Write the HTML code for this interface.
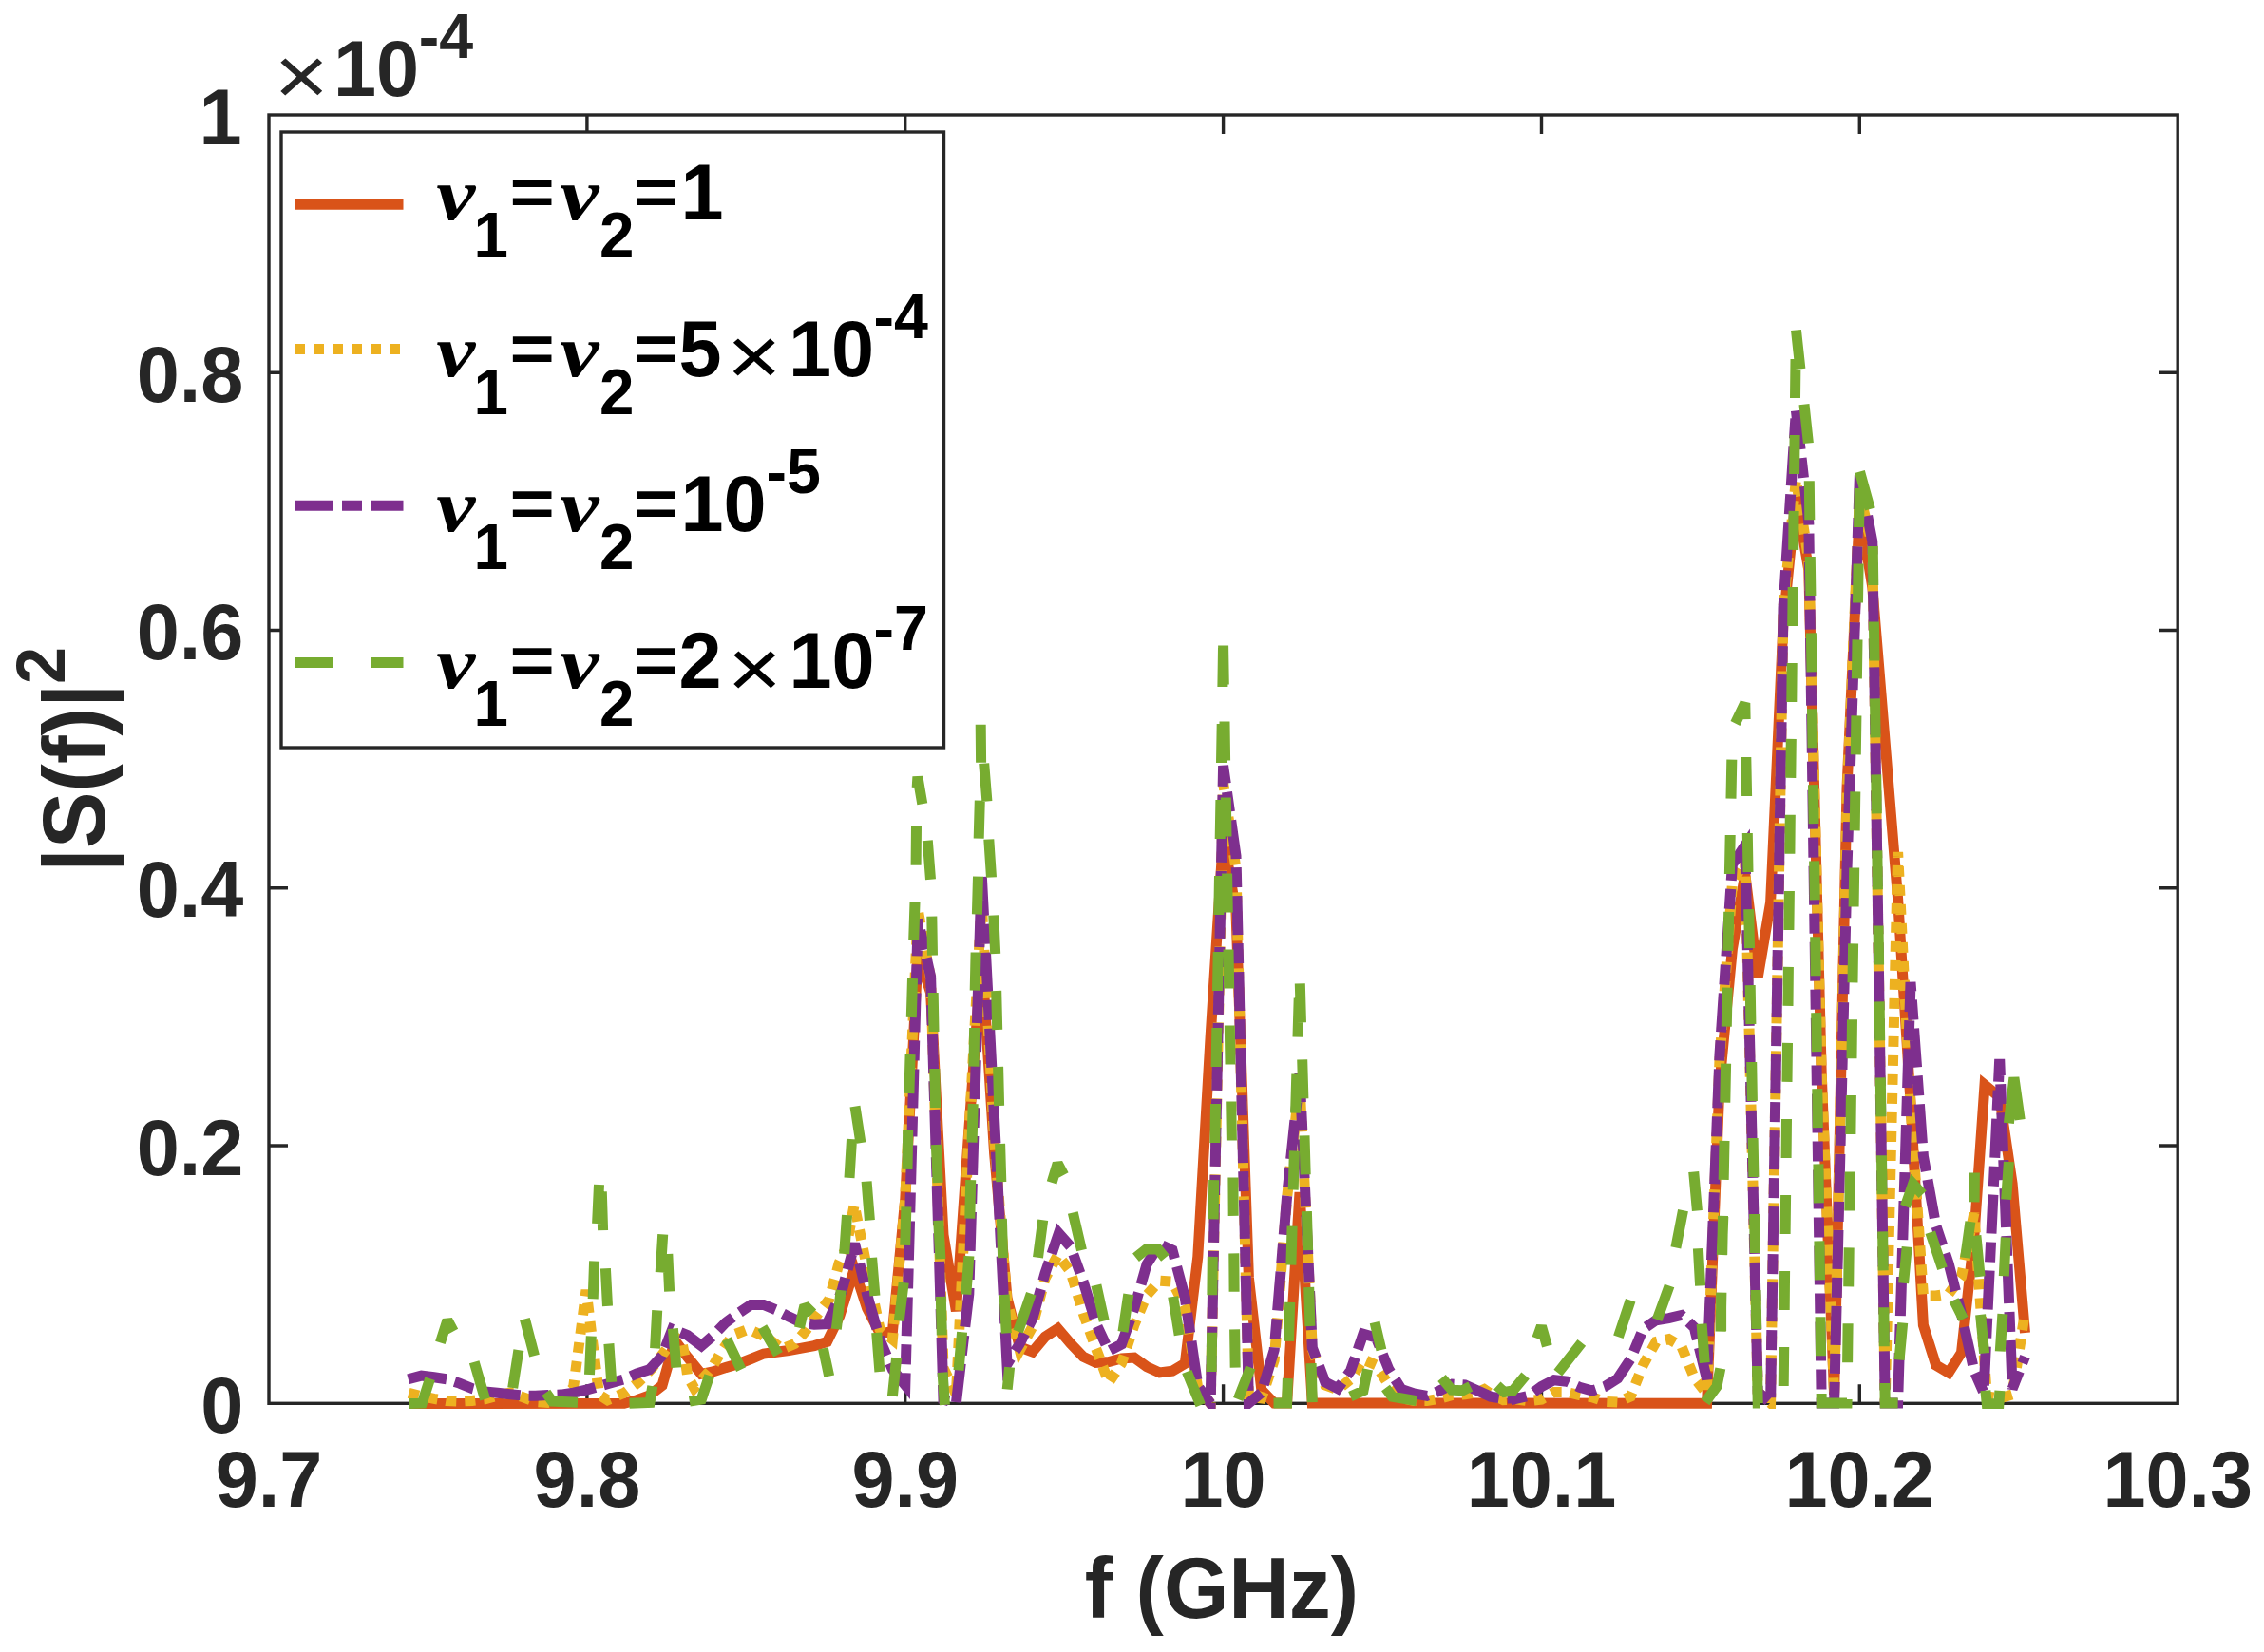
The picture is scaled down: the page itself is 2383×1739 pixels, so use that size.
<!DOCTYPE html>
<html><head><meta charset="utf-8"><title>Spectrum plot</title>
<style>
html,body{margin:0;padding:0;background:#fff;}
body{width:2383px;height:1739px;overflow:hidden;}
svg{display:block;}
.t{font-family:"Liberation Sans",Arial,sans-serif;font-weight:bold;fill:#262626;}
.l{font-family:"Liberation Sans",Arial,sans-serif;font-weight:bold;fill:#000;}
.x{font-family:"Liberation Sans",Arial,sans-serif;font-weight:normal;}
.nu{font-family:"Liberation Serif","DejaVu Serif",serif;font-weight:bold;font-style:italic;fill:#000;}
</style></head><body>
<svg width="2383" height="1739" viewBox="0 0 2383 1739">
<rect x="0" y="0" width="2383" height="1739" fill="#fff"/>

<g stroke="#262626" stroke-width="3.4" fill="none" stroke-linecap="square">
<rect x="283.0" y="121.0" width="2009.1999999999998" height="1356.3"/>
<path d="M617.9 1477.3 v-20 M617.9 121.0 v20" stroke-linecap="butt"/>
<path d="M952.7 1477.3 v-20 M952.7 121.0 v20" stroke-linecap="butt"/>
<path d="M1287.6 1477.3 v-20 M1287.6 121.0 v20" stroke-linecap="butt"/>
<path d="M1622.5 1477.3 v-20 M1622.5 121.0 v20" stroke-linecap="butt"/>
<path d="M1957.3 1477.3 v-20 M1957.3 121.0 v20" stroke-linecap="butt"/>
<path d="M283.0 1206.0 h20 M2292.2 1206.0 h-20" stroke-linecap="butt"/>
<path d="M283.0 934.8 h20 M2292.2 934.8 h-20" stroke-linecap="butt"/>
<path d="M283.0 663.5 h20 M2292.2 663.5 h-20" stroke-linecap="butt"/>
<path d="M283.0 392.3 h20 M2292.2 392.3 h-20" stroke-linecap="butt"/>
</g>
<defs><clipPath id="cp"><rect x="275.0" y="113.0" width="2025.1999999999998" height="1370.0"/></clipPath></defs><g clip-path="url(#cp)">
<polyline points="430.2,1477.5 657.0,1477.2 670.3,1473.7 683.6,1468.8 697.0,1458.4 710.4,1411.1 723.7,1428.5 738.1,1446.3 750.4,1444.0 763.7,1439.6 777.0,1435.7 790.4,1430.5 803.8,1425.0 817.1,1423.2 830.4,1421.5 843.7,1419.1 857.1,1416.6 870.5,1412.4 883.8,1385.3 899.2,1336.0 912.6,1377.0 926.0,1403.0 939.4,1402.0 952.8,1262.0 966.2,1003.0 979.6,1045.0 993.0,1300.0 1006.4,1380.0 1019.8,1190.0 1033.2,1005.0 1046.6,1214.0 1060.0,1366.0 1073.4,1418.0 1086.8,1423.0 1100.0,1407.2 1113.4,1398.4 1126.9,1414.2 1140.2,1428.2 1153.6,1434.4 1167.1,1433.5 1180.4,1430.0 1193.8,1429.1 1207.1,1438.8 1220.6,1444.9 1234.0,1443.2 1247.3,1435.3 1260.8,1322.9 1274.2,1090.0 1287.6,880.0 1301.0,960.0 1314.4,1345.0 1327.8,1463.0 1341.2,1477.0 1354.6,1477.0 1368.0,1255.0 1381.3,1477.0 1796.6,1477.3 1810.0,1140.0 1823.4,999.0 1836.8,920.0 1850.2,1029.0 1863.6,950.0 1877.0,655.0 1890.4,522.0 1903.8,600.0 1917.2,1130.0 1930.6,1468.0 1944.0,830.0 1957.4,535.0 1970.8,618.0 1984.2,782.0 1997.6,946.0 2011.0,1160.0 2024.4,1395.0 2037.7,1437.0 2051.1,1445.0 2064.5,1424.0 2077.9,1301.0 2089.0,1142.0 2104.7,1155.0 2118.1,1246.0 2131.5,1403.0" fill="none" stroke="#D95319" stroke-width="11" stroke-linejoin="miter" stroke-miterlimit="4"/>
<polyline points="430.2,1466.3 443.5,1469.7 456.9,1472.4 470.2,1474.6 483.6,1475.1 496.9,1474.4 510.3,1472.9 523.6,1469.3 536.9,1465.9 550.2,1470.7 563.6,1475.6 576.9,1476.5 590.3,1474.6 603.6,1460.5 617.0,1358.0 630.5,1468.0 639.5,1473.7 657.6,1466.0 672.2,1454.9 686.8,1439.6 699.4,1422.9 710.5,1407.6 717.5,1411.1 720.9,1428.5 723.7,1448.6 730.7,1461.2 748.8,1441.0 757.8,1425.0 771.1,1405.5 787.8,1399.2 806.6,1407.6 823.3,1420.1 836.5,1414.5 848.3,1400.6 860.8,1383.2 872.7,1367.9 878.2,1347.7 883.1,1329.6 890.8,1312.9 899.2,1268.0 912.6,1335.0 926.0,1399.0 939.4,1410.0 952.8,1262.0 966.2,958.0 979.6,1030.0 993.0,1440.0 1006.4,1468.0 1019.8,1195.0 1033.2,950.0 1046.6,1200.0 1060.0,1370.0 1073.3,1421.2 1086.7,1396.6 1100.0,1345.7 1113.4,1321.1 1126.9,1338.7 1140.2,1382.6 1153.6,1419.5 1167.1,1455.4 1180.4,1435.3 1193.8,1394.9 1207.1,1363.3 1220.6,1348.3 1234.0,1349.2 1247.3,1375.6 1260.8,1461.6 1274.2,1477.4 1287.6,824.0 1301.0,915.0 1314.4,1470.0 1327.8,1472.0 1341.2,1432.0 1354.6,1261.0 1368.0,1140.0 1381.3,1420.0 1394.8,1458.0 1408.1,1462.8 1421.6,1451.9 1434.9,1431.0 1448.3,1436.8 1461.7,1458.0 1475.1,1471.6 1488.5,1474.6 1501.9,1474.6 1515.2,1472.3 1528.7,1468.5 1542.0,1467.8 1555.5,1465.5 1562.2,1462.5 1568.8,1467.0 1582.3,1473.8 1595.6,1473.1 1595.7,1473.1 1609.1,1474.6 1622.5,1473.1 1635.8,1465.5 1649.2,1465.5 1662.6,1468.5 1676.0,1470.8 1689.4,1475.4 1702.7,1476.1 1716.2,1470.1 1729.5,1436.8 1743.0,1412.5 1756.5,1409.5 1769.8,1417.1 1783.3,1450.4 1796.6,1467.0 1810.0,1115.0 1823.4,930.0 1836.8,905.0 1850.2,1465.0 1863.6,1477.0 1877.0,640.0 1890.4,505.0 1903.8,590.0 1917.2,1130.0 1930.6,1468.0 1944.0,840.0 1957.4,520.0 1970.8,575.0 1984.2,1477.0 1997.6,897.0 2011.0,1165.0 2024.4,1364.0 2037.7,1364.0 2051.1,1362.0 2064.5,1344.0 2077.9,1277.0 2091.3,1470.0 2104.7,1472.0 2118.1,1468.0 2130.6,1387.0" fill="none" stroke="#EDB120" stroke-width="11" stroke-linejoin="miter" stroke-miterlimit="4" stroke-dasharray="11 9"/>
<polyline points="429.7,1451.8 443.5,1448.1 456.9,1449.8 470.2,1451.8 483.6,1456.1 496.9,1461.5 510.3,1464.9 523.6,1466.3 536.9,1467.8 550.2,1469.1 563.6,1469.3 576.9,1468.5 590.3,1468.1 603.6,1466.1 617.0,1463.2 636.0,1457.7 656.2,1452.1 670.3,1445.9 683.6,1441.7 697.0,1427.1 707.7,1399.2 723.7,1405.5 738.3,1416.6 750.4,1406.2 763.7,1392.3 777.0,1382.5 790.4,1373.5 803.8,1373.5 817.1,1379.0 830.4,1386.0 843.7,1392.3 857.1,1394.3 870.5,1393.6 885.8,1359.8 899.6,1309.0 912.6,1362.6 926.0,1409.8 939.4,1441.6 952.8,1458.0 966.2,968.0 979.6,1028.0 993.0,1473.0 1006.4,1477.0 1019.8,1362.0 1033.2,920.0 1046.6,1178.0 1060.0,1436.0 1073.4,1414.3 1086.8,1388.0 1100.0,1340.4 1114.4,1298.3 1126.9,1312.4 1140.2,1349.2 1153.6,1393.1 1167.1,1422.1 1180.4,1415.1 1193.8,1377.3 1207.1,1330.8 1220.6,1309.7 1234.0,1315.9 1247.3,1365.9 1260.8,1459.0 1274.2,1477.4 1287.6,806.0 1301.0,901.0 1314.4,1477.0 1327.8,1466.0 1341.2,1421.0 1354.6,1259.7 1368.0,1130.0 1381.3,1418.6 1394.8,1454.9 1408.1,1461.7 1421.6,1442.8 1434.9,1404.2 1448.3,1408.0 1461.7,1441.3 1475.1,1462.5 1488.5,1467.0 1501.9,1469.3 1515.2,1464.0 1528.7,1457.2 1542.0,1458.0 1555.5,1464.0 1568.8,1470.1 1582.3,1472.3 1595.6,1471.6 1595.7,1472.3 1609.1,1469.3 1622.5,1459.5 1635.8,1452.7 1649.2,1454.2 1662.6,1460.2 1676.0,1464.0 1689.4,1459.5 1702.7,1451.1 1716.2,1430.7 1729.5,1398.9 1743.0,1389.8 1756.5,1387.6 1769.8,1384.5 1783.3,1397.4 1796.6,1451.9 1810.0,1110.0 1823.4,910.0 1836.8,890.0 1850.2,1465.0 1863.6,1477.0 1877.0,640.0 1890.4,432.0 1903.8,550.0 1917.2,1477.0 1930.6,1477.0 1944.0,915.0 1957.4,500.0 1970.8,570.0 1984.2,1477.0 1997.6,1477.0 2011.0,1034.0 2024.4,1217.0 2037.7,1290.0 2051.1,1330.0 2064.5,1383.0 2077.9,1443.0 2088.0,1466.0 2104.7,1115.0 2118.1,1462.0 2131.5,1428.0" fill="none" stroke="#7E2F8E" stroke-width="11" stroke-linejoin="miter" stroke-miterlimit="4" stroke-dasharray="41 9 21 9"/>
<path d="M430.2 1477.5 L444.3 1477.2 L452.6 1451.3 M463.4 1413.4 L471.0 1389.6 L477.3 1401.4 M499.2 1433.8 L510.6 1472.9 M539.7 1461.0 L545.9 1421.1 M552.4 1388.3 L562.5 1427.2 M574.7 1465.9 L581.3 1475.1 L608.0 1476.2 M620.5 1447.0 L622.3 1406.4 M624.2 1367.2 L625.6 1327.5 M628.6 1287.9 L630.5 1247.1 M633.3 1254.3 L634.6 1295.2 M637.4 1335.2 L639.5 1374.9 M640.9 1414.5 L643.7 1454.9 M662.5 1477.2 L684.0 1476.5 L686.8 1459.1 M689.6 1419.4 L691.7 1379.4 M695.2 1339.4 L697.7 1299.4 M702.8 1319.9 L704.6 1359.5 M708.4 1398.5 L711.9 1439.6 M725.8 1475.1 L738.3 1473.0 L746.7 1447.9 M764.8 1409.7 L780.1 1441.7 M802.4 1397.1 L819.1 1425.7 M841.4 1397.8 L846.9 1374.2 L855.3 1382.5 M866.4 1419.4 L872.7 1448.6 M880.3 1399.2 L885.2 1358.1 M888.7 1319.9 L891.5 1279.2 M894.0 1239.8 L896.5 1199.2 M900.0 1164.7 L905.9 1203.1 M956.9 1151.0 L958.1 1110.0 M959.3 1071.0 L960.5 1030.0 M982.2 1045.0 L983.0 1086.0 M983.8 1125.0 L984.6 1166.0 M1023.1 1202.7 L1024.2 1162.0 M1025.0 1122.7 L1025.6 1082.0 M1026.2 1042.7 L1027.1 1002.5 M1048.7 1043.0 L1049.7 1084.0 M1050.6 1123.0 L1051.6 1164.0 M912.1 1243.6 L915.4 1284.5 M917.6 1323.9 L920.9 1364.0 M922.7 1402.9 L925.9 1444.0 M939.4 1469.7 L943.6 1429.4 M946.3 1390.4 L951.2 1350.2 M952.7 1310.8 L953.9 1270.3 M955.0 1230.9 L955.7 1190.0 M985.3 1204.9 L987.2 1245.0 M987.7 1284.8 L989.9 1325.3 M990.3 1364.8 L991.3 1405.3 M992.1 1444.7 L994.4 1478.8 M1009.0 1442.5 L1012.6 1402.2 M1016.8 1362.6 L1019.9 1322.2 M1020.8 1282.6 L1021.7 1242.1 M1052.6 1204.0 L1053.8 1244.1 M1054.4 1283.0 L1055.6 1324.1 M1057.1 1362.9 L1059.3 1403.4 M1062.6 1439.2 L1060.2 1462.5 M1071.6 1401.6 L1085.3 1361.7 M961.7 989.8 L963.0 949.8 M964.1 910.7 L964.5 869.5 M965.2 829.2 L965.9 817.7 L970.8 846.3 M976.3 884.8 L979.5 925.8 M980.8 964.7 L981.5 1005.7 M1028.4 962.5 L1029.5 922.6 M1030.2 882.6 L1031.3 842.6 M1032.6 802.7 L1032.2 762.7 M1035.7 803.6 L1038.9 843.5 M1040.8 883.5 L1043.5 923.5 M1045.8 963.4 L1047.7 1003.9 M1092.5 1323.8 L1097.7 1284.3 M1107.1 1244.8 L1113.2 1224.6 L1119.7 1236.9 M1129.3 1276.4 L1138.5 1315.9 M1153.9 1352.7 L1162.2 1390.5 M1182.0 1401.9 L1187.8 1362.4 M1195.5 1323.8 L1206.6 1315.0 L1218.9 1315.0 L1226.4 1324.3 M1234.7 1365.0 L1241.2 1405.4 M1249.3 1444.0 L1263.7 1479.1 M1275.1 1444.0 L1275.6 1402.8 M1275.9 1363.3 L1276.3 1322.9 M1277.2 1283.4 L1277.7 1242.1 M1297.9 1239.5 L1298.2 1279.9 M1298.8 1319.4 L1299.1 1359.8 M1299.6 1399.3 L1300.2 1439.6 M1303.2 1473.0 L1316.3 1439.6 M1278.8 1203.0 L1279.5 1162.0 M1280.1 1123.0 L1280.8 1082.0 M1281.5 1043.0 L1282.2 1002.0 M1282.8 963.0 L1283.5 922.0 M1284.2 883.0 L1284.9 842.0 M1285.5 803.0 L1286.2 762.0 M1286.9 723.0 L1287.5 682.0 M1287.6 679.5 L1288.3 720.5 M1289.0 759.5 L1289.6 800.5 M1290.3 839.5 L1291.0 880.5 M1291.6 919.5 L1292.3 960.5 M1293.0 999.5 L1293.7 1040.5 M1294.3 1079.5 L1295.0 1120.5 M1295.7 1159.5 L1296.4 1200.5 M1356.5 1411.8 L1357.7 1370.8 M1358.9 1331.6 L1360.1 1290.6 M1361.2 1252.5 L1362.4 1211.5 M1363.6 1171.7 L1364.8 1130.7 M1366.0 1091.7 L1367.2 1050.7 M1340.5 1477.0 L1354.6 1477.0 L1355.4 1451.0 M1368.3 1035.4 L1369.5 1076.4 M1370.7 1115.4 L1371.9 1156.4 M1373.0 1195.3 L1374.2 1236.3 M1375.4 1275.2 L1376.6 1316.2 M1377.7 1355.0 L1378.9 1396.0 M1380.1 1435.2 L1381.3 1476.2 M1421.4 1470.1 L1435.0 1464.0 L1439.6 1441.3 M1447.1 1392.1 L1453.9 1420.9 M1458.5 1461.0 L1465.3 1470.1 L1491.0 1474.6 M1517.5 1450.4 L1528.1 1463.2 L1539.5 1463.7 L1547.8 1459.5 M1575.8 1458.7 L1583.4 1465.5 L1592.4 1464.0 L1605.6 1448.0 M1617.8 1408.8 L1622.4 1395.9 L1628.4 1417.1 M1639.8 1445.1 L1664.8 1413.3 M1703.4 1407.2 L1716.2 1368.7 M1744.2 1389.1 L1757.1 1353.5 M1763.9 1313.4 L1771.5 1274.1 M1787.4 1314.2 L1789.6 1353.5 M1791.1 1393.6 L1794.2 1434.5 M1794.9 1476.1 L1807.0 1459.5 L1810.8 1440.5 M1811.6 1401.2 L1811.6 1361.1 M1812.3 1321.0 L1813.8 1280.9 M1794.9 1476.1 L1807.0 1459.5 L1810.8 1440.5 M1782.7 1233.6 L1786.4 1274.5 M1811.1 1401.6 L1811.9 1360.6 M1812.7 1320.8 L1813.5 1279.8 M1814.2 1241.8 L1815.0 1200.8 M1815.8 1160.7 L1816.6 1119.7 M1817.3 1080.7 L1818.1 1039.7 M1818.9 1000.8 L1819.7 959.8 M1820.4 920.0 L1821.2 879.0 M1822.0 840.7 L1822.8 799.7 M1826.5 761.5 L1836.8 740.0 L1837.1 757.1 M1837.8 797.0 L1838.6 838.0 M1839.3 877.0 L1840.0 918.0 M1840.7 957.2 L1841.5 998.2 M1842.2 1037.1 L1842.9 1078.1 M1843.7 1118.0 L1844.4 1159.0 M1845.1 1198.0 L1845.9 1239.0 M1846.6 1278.0 L1847.3 1319.0 M1848.0 1358.0 L1848.8 1399.0 M1849.5 1438.0 L1850.2 1477.0 L1852.2 1477.0 M1877.2 1459.0 L1877.7 1418.0 M1878.2 1379.0 L1878.6 1338.0 M1879.1 1299.0 L1879.6 1258.0 M1880.1 1219.0 L1880.5 1178.0 M1881.0 1138.9 L1881.5 1097.9 M1882.0 1058.9 L1882.4 1017.9 M1882.9 979.0 L1883.4 938.0 M1883.9 898.8 L1884.3 857.8 M1884.8 818.9 L1885.3 777.9 M1885.8 739.0 L1886.2 698.0 M1886.7 659.0 L1887.2 618.0 M1887.7 578.9 L1888.1 537.9 M1888.6 499.0 L1889.1 458.0 M1889.5 419.0 L1890.0 378.0 M1890.5 347.5 L1894.9 388.3 M1899.0 425.7 L1903.4 466.5 M1904.3 506.2 L1904.8 547.2 M1905.3 586.0 L1905.9 627.0 M1906.4 666.3 L1907.0 707.3 M1907.5 746.2 L1908.0 787.2 M1908.5 826.2 L1909.1 867.2 M1909.6 906.3 L1910.2 947.3 M1910.7 986.3 L1911.2 1027.3 M1911.7 1066.2 L1912.3 1107.2 M1912.8 1146.1 L1913.3 1187.1 M1913.9 1225.4 L1914.4 1266.4 M1914.9 1306.3 L1915.5 1347.3 M1916.0 1386.2 L1916.5 1427.2 M1917.1 1467.0 L1917.2 1477.0 L1930.6 1477.0 L1944.0 1477.0 L1944.1 1472.8 M1944.6 1434.3 L1945.1 1393.3 M1945.7 1354.4 L1946.2 1313.4 M1946.8 1274.5 L1947.3 1233.5 M1947.9 1194.0 L1948.4 1153.0 M1949.0 1114.3 L1949.5 1073.3 M1950.0 1034.4 L1950.6 993.4 M1951.1 954.5 L1951.7 913.5 M1952.2 874.3 L1952.8 833.3 M1953.3 794.4 L1953.9 753.4 M1954.4 714.4 L1955.0 673.4 M1955.5 634.5 L1956.1 593.5 M1956.6 555.0 L1957.2 514.0 M1957.5 496.5 L1968.4 536.0 M1971.2 575.0 L1971.8 616.0 M1972.4 654.5 L1973.0 695.5 M1973.5 735.3 L1974.1 776.3 M1974.7 815.3 L1975.3 856.3 M1975.8 895.4 L1976.4 936.4 M1977.0 974.5 L1977.6 1015.5 M1978.1 1054.4 L1978.7 1095.4 M1979.3 1134.3 L1979.9 1175.3 M1980.5 1216.3 L1981.0 1257.3 M1981.6 1296.3 L1982.2 1337.3 M1982.8 1376.2 L1983.3 1417.2 M1983.9 1456.0 L1984.2 1477.0 L1997.6 1477.0 M1999.1 1431.6 L2002.7 1392.5 M2003.6 1350.8 L2007.2 1312.6 M2005.4 1269.9 L2013.6 1246.3 L2023.6 1257.2 M2031.8 1297.2 L2044.5 1335.3 M2056.6 1368.6 L2066.6 1388.5 M2068.6 1323.9 L2073.9 1285.9 M2078.1 1265.4 L2078.4 1234.5 M2079.9 1300.6 L2084.1 1343.9 M2084.6 1383.9 L2088.6 1424.5 M2089.9 1463.8 L2091.3 1477.8 L2103.9 1477.8 L2104.9 1463.8 M2105.3 1422.5 L2107.9 1383.2 M2109.3 1343.3 L2111.3 1302.6 M2111.7 1262.7 L2114.4 1223.0 M2114.4 1182.4 L2119.9 1134.3 L2126.2 1178.8" fill="none" stroke="#77AC30" stroke-width="11" stroke-linejoin="miter" stroke-miterlimit="2" stroke-linecap="butt"/>
</g>
<text class="t" transform="translate(283.0,1586.2) scale(1.0,1.04)" font-size="81" text-anchor="middle">9.7</text>
<text class="t" transform="translate(617.9,1586.2) scale(1.0,1.04)" font-size="81" text-anchor="middle">9.8</text>
<text class="t" transform="translate(952.7,1586.2) scale(1.0,1.04)" font-size="81" text-anchor="middle">9.9</text>
<text class="t" transform="translate(1287.6,1586.2) scale(1.0,1.04)" font-size="81" text-anchor="middle">10</text>
<text class="t" transform="translate(1622.5,1586.2) scale(1.0,1.04)" font-size="81" text-anchor="middle">10.1</text>
<text class="t" transform="translate(1957.3,1586.2) scale(1.0,1.04)" font-size="81" text-anchor="middle">10.2</text>
<text class="t" transform="translate(2292.2,1586.2) scale(1.0,1.04)" font-size="81" text-anchor="middle">10.3</text>
<text class="t" transform="translate(256.3,1507.9) scale(1.0,1.04)" font-size="81" text-anchor="end">0</text>
<text class="t" transform="translate(256.3,1236.6) scale(1.0,1.04)" font-size="81" text-anchor="end">0.2</text>
<text class="t" transform="translate(256.3,965.4) scale(1.0,1.04)" font-size="81" text-anchor="end">0.4</text>
<text class="t" transform="translate(256.3,694.1) scale(1.0,1.04)" font-size="81" text-anchor="end">0.6</text>
<text class="t" transform="translate(256.3,422.9) scale(1.0,1.04)" font-size="81" text-anchor="end">0.8</text>
<text class="t" transform="translate(254.5,151.6) scale(1.0,1.04)" font-size="81" text-anchor="end">1</text>
<text class="t x" transform="translate(288.4,110.3) scale(1.07,0.94)" font-size="92" text-anchor="start">×</text>
<text class="t" transform="translate(351.0,100.9) scale(1.0,1.04)" font-size="81" text-anchor="start">10</text>
<text class="t" transform="translate(440.8,61.0) scale(1.0,1.04)" font-size="64.5" text-anchor="start">-4</text>
<text class="t" transform="translate(1286.0,1702.6) scale(1.0,1.04)" font-size="88" text-anchor="middle">f (GHz)</text>
<g transform="translate(110,918) rotate(-90)">
<text class="t" transform="translate(0.0,0.0) scale(1.0,1.04)" font-size="89" text-anchor="start">|S(f)|</text>
<text class="t" transform="translate(198.0,-42.2) scale(1.0,1.04)" font-size="70" text-anchor="start">2</text>
</g>
<rect x="296" y="139" width="697.5" height="648" fill="#fff" stroke="#262626" stroke-width="3.4"/>
<path d="M310 215.3 H424.5" stroke="#D95319" stroke-width="11" fill="none"/>
<text class="nu" transform="translate(459.3,230.7) scale(1.075,0.917)" font-size="86" text-anchor="start">ν</text>
<text class="l" transform="translate(498.5,270.8) scale(1.0,1.04)" font-size="65.5" text-anchor="start">1</text>
<text class="l" transform="translate(536.6,225.7) scale(1.0,0.876)" font-size="81" text-anchor="start">=</text>
<text class="nu" transform="translate(589.4,230.7) scale(1.075,0.917)" font-size="86" text-anchor="start">ν</text>
<text class="l" transform="translate(631.0,270.8) scale(1.0,1.04)" font-size="65.5" text-anchor="start">2</text>
<text class="l" transform="translate(666.7,225.7) scale(1.0,0.876)" font-size="81" text-anchor="start">=</text>
<text class="l" transform="translate(716.5,230.9) scale(1.0,1.04)" font-size="81" text-anchor="start">1</text>
<path d="M310 367.5 H424.5" stroke="#EDB120" stroke-width="11" fill="none" stroke-dasharray="11 9"/>
<text class="nu" transform="translate(459.3,395.8) scale(1.075,0.917)" font-size="86" text-anchor="start">ν</text>
<text class="l" transform="translate(498.5,435.9) scale(1.0,1.04)" font-size="65.5" text-anchor="start">1</text>
<text class="l" transform="translate(536.6,390.8) scale(1.0,0.876)" font-size="81" text-anchor="start">=</text>
<text class="nu" transform="translate(589.4,395.8) scale(1.075,0.917)" font-size="86" text-anchor="start">ν</text>
<text class="l" transform="translate(631.0,435.9) scale(1.0,1.04)" font-size="65.5" text-anchor="start">2</text>
<text class="l" transform="translate(666.7,390.8) scale(1.0,0.876)" font-size="81" text-anchor="start">=</text>
<text class="l" transform="translate(714.5,396.0) scale(1.0,1.04)" font-size="81" text-anchor="start">5</text>
<text class="l x" transform="translate(765.1,405.4) scale(1.07,0.94)" font-size="92" text-anchor="start">×</text>
<text class="l" transform="translate(830.0,396.0) scale(1.0,1.04)" font-size="81" text-anchor="start">10</text>
<text class="l" transform="translate(919.6,355.9) scale(1.0,1.04)" font-size="64.5" text-anchor="start">-4</text>
<path d="M310 532.3 H424.5" stroke="#7E2F8E" stroke-width="11" fill="none" stroke-dasharray="41 9 21 9"/>
<text class="nu" transform="translate(459.3,558.8) scale(1.075,0.917)" font-size="86" text-anchor="start">ν</text>
<text class="l" transform="translate(498.5,598.9) scale(1.0,1.04)" font-size="65.5" text-anchor="start">1</text>
<text class="l" transform="translate(536.6,553.8) scale(1.0,0.876)" font-size="81" text-anchor="start">=</text>
<text class="nu" transform="translate(589.4,558.8) scale(1.075,0.917)" font-size="86" text-anchor="start">ν</text>
<text class="l" transform="translate(631.0,598.9) scale(1.0,1.04)" font-size="65.5" text-anchor="start">2</text>
<text class="l" transform="translate(666.7,553.8) scale(1.0,0.876)" font-size="81" text-anchor="start">=</text>
<text class="l" transform="translate(716.5,559.0) scale(1.0,1.04)" font-size="81" text-anchor="start">10</text>
<text class="l" transform="translate(806.4,518.9) scale(1.0,1.04)" font-size="64.5" text-anchor="start">-5</text>
<path d="M310 697.4 H424.5" stroke="#77AC30" stroke-width="11" fill="none" stroke-dasharray="41 39"/>
<text class="nu" transform="translate(459.3,724.2) scale(1.075,0.917)" font-size="86" text-anchor="start">ν</text>
<text class="l" transform="translate(498.5,764.3) scale(1.0,1.04)" font-size="65.5" text-anchor="start">1</text>
<text class="l" transform="translate(536.6,719.2) scale(1.0,0.876)" font-size="81" text-anchor="start">=</text>
<text class="nu" transform="translate(589.4,724.2) scale(1.075,0.917)" font-size="86" text-anchor="start">ν</text>
<text class="l" transform="translate(631.0,764.3) scale(1.0,1.04)" font-size="65.5" text-anchor="start">2</text>
<text class="l" transform="translate(666.7,719.2) scale(1.0,0.876)" font-size="81" text-anchor="start">=</text>
<text class="l" transform="translate(714.5,724.4) scale(1.0,1.04)" font-size="81" text-anchor="start">2</text>
<text class="l x" transform="translate(765.6,733.8) scale(1.07,0.94)" font-size="92" text-anchor="start">×</text>
<text class="l" transform="translate(830.5,724.4) scale(1.0,1.04)" font-size="81" text-anchor="start">10</text>
<text class="l" transform="translate(919.5,684.3) scale(1.0,1.04)" font-size="64.5" text-anchor="start">-7</text>
</svg></body></html>
